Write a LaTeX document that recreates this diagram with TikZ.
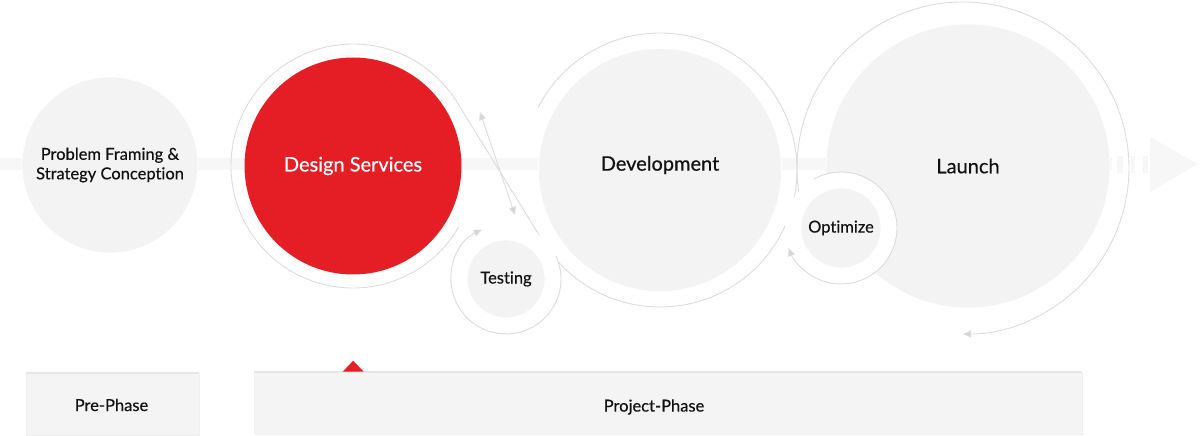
\documentclass[tikz,border=0pt]{standalone}
\usepackage{fontspec}
\setmainfont{Lato}
\newfontfamily\lblfont{Lato}[FakeBold=0.35,Ligatures=NoCommon]
\usetikzlibrary{arrows.meta,calc}
\definecolor{ringc}{HTML}{DCDCDC}
\definecolor{tipc}{HTML}{D4D4D4}
\definecolor{discc}{HTML}{F3F3F3}
\definecolor{bandc}{HTML}{F7F7F7}
\definecolor{redc}{HTML}{E51D24}
\definecolor{txt}{HTML}{111111}
\definecolor{boxc}{HTML}{F4F4F4}
\definecolor{boxedge}{HTML}{E6E6E6}
\newcommand{\bigf}{\lblfont\fontsize{20}{24}\selectfont}
\newcommand{\smallf}{\lblfont\fontsize{16.5}{19.5}\selectfont}
\begin{document}
\begin{tikzpicture}[x=1pt,y=1pt,
  disc/.style={circle,fill=discc,draw=white,line width=0.8pt,inner sep=0pt,minimum size=#1,text=txt,align=center},
  wdisc/.style={circle,fill=white,inner sep=0pt,minimum size=#1},
  ring/.style={draw=ringc,line width=0.9pt},
  tipped/.style={-{Triangle[length=8pt,width=7pt,fill=tipc]}},
  lbl/.style={text=txt,font=\bigf,inner sep=0pt},
  phase/.style={rectangle,fill=boxc,draw=white!94!black,line width=0.6pt,minimum height=62pt,inner sep=0pt},
  phlbl/.style={text=txt,font=\smallf,inner sep=0pt}
]
\useasboundingbox (0,0) rectangle (1200,436);

% background band with arrow
\fill[bandc] (0,266) rectangle (1112,278);
\foreach \a/\b in {1116/1123,1130/1135,1142/1148}{
  \filldraw[fill=bandc,draw=white,line width=0.8pt] (\a,263) rectangle (\b,281);
}
\fill[bandc] (1150,299) -- (1198,272) -- (1150,244) -- cycle;

% main discs
\node[disc=176pt,font=\smallf] (pf) at (110,271) {Problem Framing \&\\Strategy Conception};
\node[circle,fill=redc,inner sep=0pt,minimum size=217pt,text=white,font=\bigf] (ds) at (353,270) {Design Services};
\node[disc=243pt] (dev) at (660,266) {};
\node[lbl] (devt) at (660,271) {Development};
\node[disc=284pt,font=\bigf] (la) at (968,270) {Launch};
\coordinate (lc) at (963,268);

% design / development ring with tangent
\draw[ring] ($(ds.center)+(-30:122)$) arc[start angle=-30,end angle=-327.5,radius=122]
  -- ($(dev.center)+(212.5:137)$) arc[start angle=212.5,end angle=513,radius=137];

% launch ring
\draw[ring,tipped] ($(lc)+(200:166)$) arc[start angle=200,end angle=-90,radius=166];

% testing
\node[wdisc=110pt] (tw) at (506,157) {};
\node[disc=78pt,font=\smallf] (te) at (506,157) {Testing};
\draw[ring,tipped] ($(tw.center)+(25:55)$) arc[start angle=25,end angle=-244,radius=55];

% optimize
\node[wdisc=112pt] (ow) at (841,208) {};
\node[disc=80pt,font=\smallf] (op) at (841,208) {Optimize};
\draw[ring,tipped] ($(ow.center)+(119:56)$) arc[start angle=119,end angle=-159,radius=56];

% double arrow between design and testing
\coordinate (da1) at (480,324);
\coordinate (da2) at (515,221);
\draw[ring,{Triangle[length=8pt,width=7pt,fill=tipc]}-{Triangle[length=8pt,width=7pt,fill=tipc]}] (da1) -- (da2);

% phases
\node[phase,minimum width=173pt] (pre) at (112.5,32) {};
\draw[boxedge,line width=2pt] (pre.north west) -- (pre.north east);
\node[phlbl] (pret) at (111.5,31) {Pre-Phase};
\node[phase,minimum width=828pt] (proj) at (668,33) {};
\draw[boxedge,line width=2pt] (proj.north west) -- (proj.north east);
\node[phlbl] (projt) at (654,29) {Project-Phase};
\fill[redc] ($(proj.north west)+(89,0)$) -- ++(21,0) -- ++(-10.5,11) -- cycle;
\end{tikzpicture}
\end{document}
